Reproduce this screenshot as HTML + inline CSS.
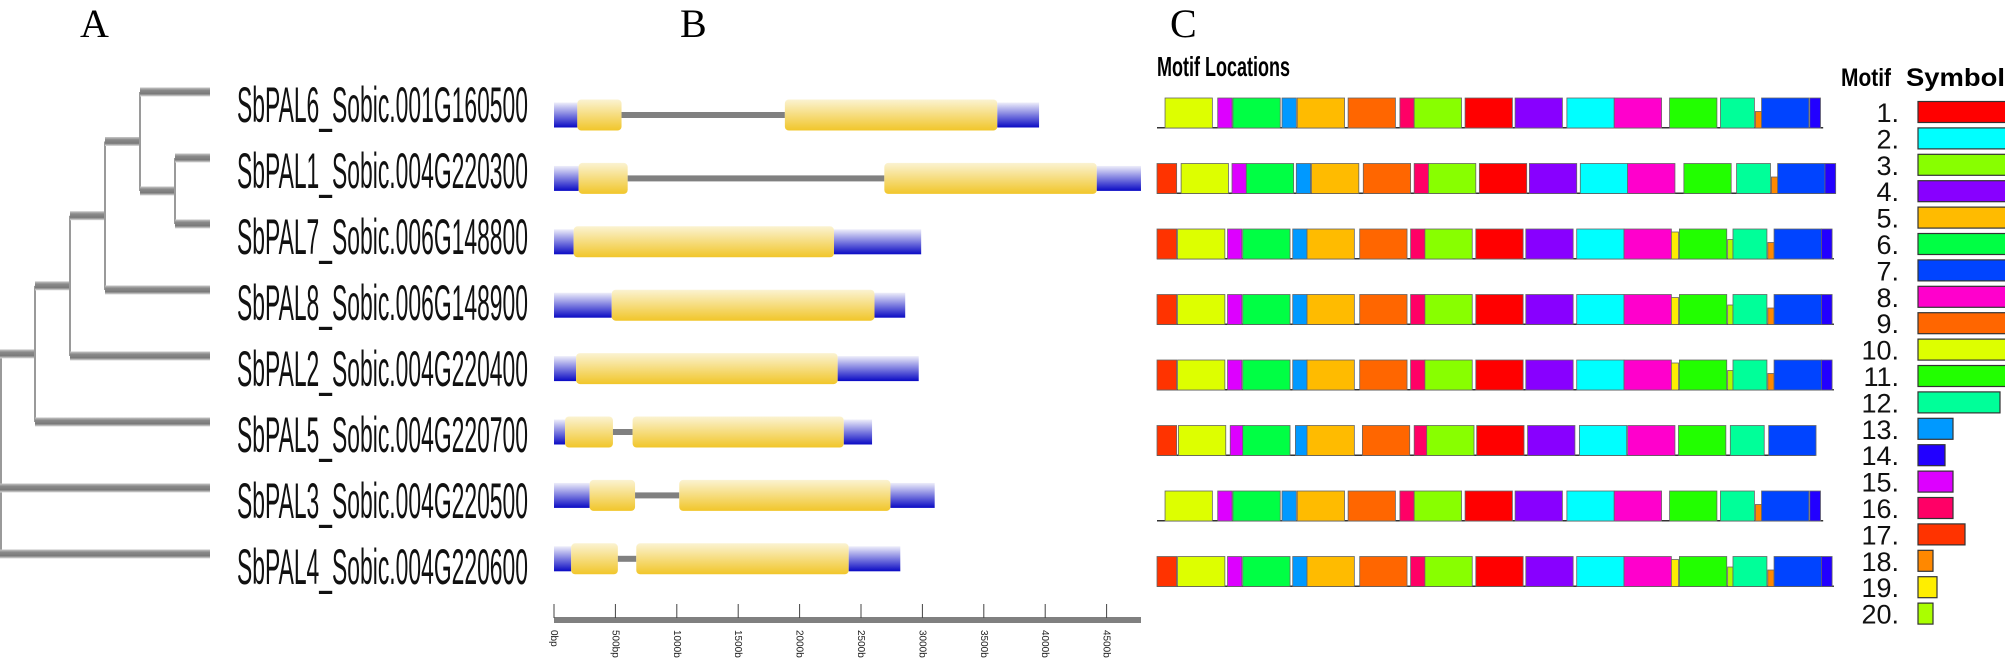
<!DOCTYPE html>
<html><head><meta charset="utf-8"><style>
html,body{margin:0;padding:0;background:#fff;}
svg{display:block;font-family:"Liberation Sans",sans-serif;}
</style></head><body>
<svg id="fig" width="2005" height="658" viewBox="0 0 2005 658" xmlns="http://www.w3.org/2000/svg">
<defs>
<linearGradient id="exonG" x1="0" y1="0" x2="0" y2="1"><stop offset="0" stop-color="#FBF3D2"/><stop offset="1" stop-color="#F1C62A"/></linearGradient>
<linearGradient id="utrG" x1="0" y1="0" x2="0" y2="1"><stop offset="0" stop-color="#EEEEFA"/><stop offset="1" stop-color="#0A0AC4"/></linearGradient>
<linearGradient id="brG" x1="0" y1="0" x2="0" y2="1"><stop offset="0" stop-color="#c8c8c8"/><stop offset="0.3" stop-color="#8a8a8a"/><stop offset="0.7" stop-color="#7a7a7a"/><stop offset="1" stop-color="#e0e0e0"/></linearGradient>
</defs>
<text x="80" y="37" font-family="Liberation Serif,serif" font-size="40">A</text>
<text x="680" y="37" font-family="Liberation Serif,serif" font-size="40">B</text>
<text x="1170" y="37" font-family="Liberation Serif,serif" font-size="40">C</text>
<text x="1157" y="76" font-size="28" font-weight="bold" textLength="133" lengthAdjust="spacingAndGlyphs">Motif Locations</text>
<text x="1841" y="86" font-size="25" font-weight="bold" textLength="50" lengthAdjust="spacingAndGlyphs">Motif</text>
<text x="1906" y="86" font-size="25" font-weight="bold" textLength="99" lengthAdjust="spacingAndGlyphs">Symbol</text>
<g id="tree"></g><g id="labels"></g><g id="genes"></g><g id="axis"></g><g id="motifs"></g><g id="legend"></g>
</svg>
<script>
const NS="http://www.w3.org/2000/svg";
// ---- data ----
const geneNames=["SbPAL6_Sobic.001G160500","SbPAL1_Sobic.004G220300","SbPAL7_Sobic.006G148800","SbPAL8_Sobic.006G148900","SbPAL2_Sobic.004G220400","SbPAL5_Sobic.004G220700","SbPAL3_Sobic.004G220500","SbPAL4_Sobic.004G220600"];
const geneFeatures=[
 [["u",0,190],["e",190,550],["i",550,1880],["e",1880,3610],["u",3610,3950]],
 [["u",0,200],["e",200,600],["i",600,2690],["e",2690,4420],["u",4420,4780]],
 [["u",0,160],["e",160,2280],["u",2280,2990]],
 [["u",0,470],["e",470,2610],["u",2610,2860]],
 [["u",0,180],["e",180,2310],["u",2310,2970]],
 [["u",0,90],["e",90,480],["i",480,640],["e",640,2360],["u",2360,2590]],
 [["u",0,290],["e",290,660],["i",660,1020],["e",1020,2740],["u",2740,3100]],
 [["u",0,140],["e",140,520],["i",520,670],["e",670,2400],["u",2400,2820]]
];
const bpTicks=[0,500,1000,1500,2000,2500,3000,3500,4000,4500];
const bpTickLabels=["0bp","500bp","1000bp","1500bp","2000bp","2500bp","3000bp","3500bp","4000bp","4500bp"];
const treeNodeDepth={N5:5,N4:4,N3:3,N2:2,N1:1,R:0};
const treeChildren={N5:[1,2],N4:[0,"N5"],N3:["N4",3],N2:["N3",4],N1:["N2",5],R:["N1",6,7]};
const motifColors=["#FF0000","#00FFFF","#88FF00","#8800FF","#FFBB00","#00FF44","#0044FF","#FF00CC","#FF6600","#DDFF00","#22FF00","#00FF99","#0099FF","#2200FF","#DD00FF","#FF0066","#FF3300","#FF8800","#FFEE00","#AAFF00"];
const motifLength=[53,53,53,53,53,53,53,53,53,53,53,38,16,12,16,16,22,7,8,6];
const motifScore=[1,1,1,1,1,1,1,1,1,1,1,1,1,1,1,1,1,0.55,0.9,0.65];
const legendBarLen=[1,1,1,1,1,1,1,1,1,1,1,0.82,0.35,0.27,0.35,0.35,0.47,0.15,0.19,0.15];
const rowA_ids=[10,15,6,13,5,9,16,3,1,4,2,8,11,12,18,7,14];
const rowA_pos=[9,68,85,140,157,214,272,288,345,401,459,512,574,631,670,677,731];
const rowB_ids=[17,10,15,6,13,5,9,16,3,1,4,2,8,11,12,18,7,14];
const rowB_pos=[0,27,84,100,156,173,231,288,304,361,417,474,527,590,649,688,695,748];
const rowC_ids=[17,10,15,6,13,5,9,16,3,1,4,2,8,19,11,20,12,18,7,14];
const rowC_pos=[0,23,79,96,152,168,227,284,300,357,413,470,523,576,585,639,645,684,691,744];
const rowD_ids=[17,10,15,6,13,5,9,16,3,1,4,2,8,11,12,7];
const rowD_pos=[0,24,82,96,155,168,230,288,302,358,415,473,527,584,642,685];
const motifRowIds=[rowA_ids,rowB_ids,rowC_ids,rowC_ids,rowC_ids,rowD_ids,rowA_ids,rowC_ids];
const motifRowPos=[rowA_pos,rowB_pos,rowC_pos,rowC_pos,rowC_pos,rowD_pos,rowA_pos,rowC_pos];
const seqLength=[746,760,758,758,758,737,746,758];

// ---- scales ----
const bpX=bp=>554+bp*0.1228;
const geneY=i=>115+i*63.4;
const leafY=i=>92+i*66;
const depthX=d=>d*35;
const aaX=a=>1157+a*0.893;
const motifRowY=i=>98+i*65.5;
const legendY=i=>112+i*26.4;

function mk(tag,attrs,parent){const e=document.createElementNS(NS,tag);for(const k in attrs)e.setAttribute(k,attrs[k]);parent.appendChild(e);return e;}

// ---- tree ----
const tree=document.getElementById('tree');
function nodeY(n){if(typeof n==="number")return leafY(n);const c=treeChildren[n].map(nodeY);return n==="R"?c[0]:(Math.min(...c)+Math.max(...c))/2;}
function drawNode(n){
  const x=depthX(treeNodeDepth[n]);const kids=treeChildren[n];const ys=kids.map(nodeY);
  const v=mk('rect',{x:Math.max(0,x-1),y:Math.min(...ys),width:2,height:Math.max(...ys)-Math.min(...ys),fill:'#9a9a9a'},tree);
  
  
  kids.forEach((k,j)=>{
    const x2=typeof k==="number"?depthX(6):depthX(treeNodeDepth[k]);
    const h=mk('rect',{x:x,y:ys[j]-4.5,width:x2-x,height:9,fill:'url(#brG)'},tree);
    
    
    if(typeof k!=="number")drawNode(k);
  });
}
drawNode("R");

// ---- labels ----
const labels=document.getElementById('labels');
geneNames.forEach((n,i)=>{
  const t=mk('text',{x:237,y:leafY(i)+30,'font-size':50,fill:'#111',textLength:291,lengthAdjust:'spacingAndGlyphs'},labels);
  t.textContent=n;
  
  
});

// ---- gene structures ----
const genes=document.getElementById('genes');
geneFeatures.forEach((fs,i)=>{
  const cy=geneY(i);
  const g=mk('g',{},genes);
  
  
  fs.forEach(f=>{
    const x1=bpX(f[1]),x2=bpX(f[2]);let r;
    if(f[0]==="u")r=mk('rect',{x:x1,y:cy-12.5,width:x2-x1,height:25,fill:'url(#utrG)'},g);
    else if(f[0]==="e")r=mk('rect',{x:x1,y:cy-15.5,width:x2-x1,height:31,rx:4,fill:'url(#exonG)'},g);
    else r=mk('rect',{x:x1,y:cy-3,width:x2-x1,height:6,fill:'#808080'},g);
    
    
  });
});

// ---- bp axis ----
const axis=document.getElementById('axis');
const ab=mk('rect',{x:bpX(0),y:617,width:1141-bpX(0),height:6,fill:'#808080'},axis);


bpTicks.forEach((b,i)=>{
  const tk=mk('rect',{x:bpX(b)-0.5,y:604,width:1,height:14,fill:'#444'},axis);
  
  
  const t=mk('text',{x:0,y:0,'font-size':10,fill:'#222',transform:`translate(${bpX(b)-3},630) rotate(90)`},axis);
  t.textContent=bpTickLabels[i];
  
  
});

// ---- motifs ----
const motifs=document.getElementById('motifs');
motifRowIds.forEach((ids,r)=>{
  const top=motifRowY(r),h=30,base=top+h;
  const g=mk('g',{},motifs);
  
  
  const ln=mk('rect',{x:aaX(0),y:base-1,width:aaX(seqLength[r])-aaX(0),height:1.5,fill:'#333'},g);
  
  
  ids.forEach((m,j)=>{
    const p=motifRowPos[r][j];const bh=h*motifScore[m-1];
    const b=mk('rect',{x:aaX(p),y:base-bh,width:motifLength[m-1]*0.893,height:bh,fill:motifColors[m-1],stroke:'#666','stroke-width':0.8},g);
    
    
  });
});

// ---- legend ----
const legend=document.getElementById('legend');
motifColors.forEach((c,i)=>{
  const y=legendY(i);
  const t=mk('text',{x:1899,y:y+10,'font-size':27,'text-anchor':'end',fill:'#111'},legend);
  t.textContent=(i+1)+".";
  
  
  const b=mk('rect',{x:1918,y:y-10.5,width:100*legendBarLen[i],height:21,fill:c,stroke:'#333','stroke-width':1.2},legend);
  
  
});
</script>
</body></html>
